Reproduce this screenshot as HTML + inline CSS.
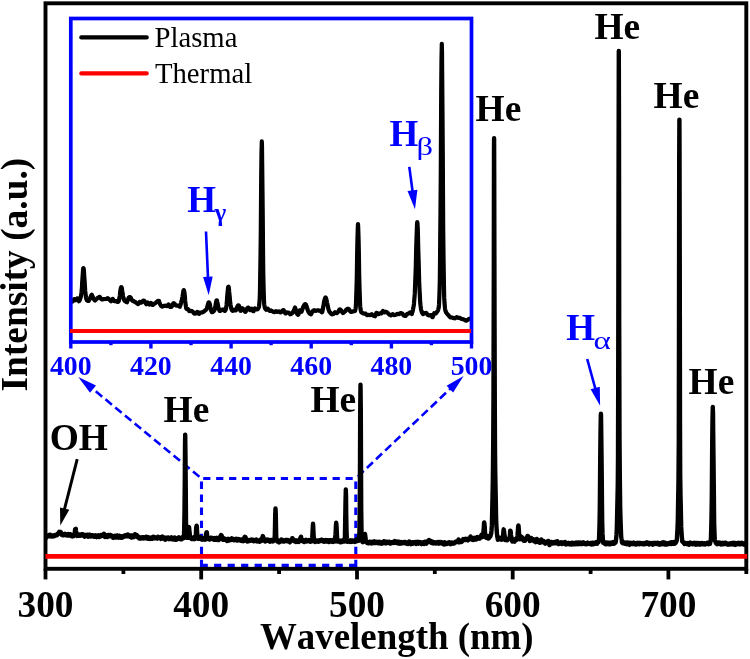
<!DOCTYPE html>
<html><head><meta charset="utf-8"><title>Emission spectrum</title>
<style>
html,body{margin:0;padding:0;background:#fff;}
svg{display:block;}
text{font-family:"Liberation Serif","Times New Roman",serif;font-kerning:none;}
.b{font-weight:bold;}
</style></head><body>
<svg width="750" height="659" viewBox="0 0 750 659">
<rect width="750" height="659" fill="#fff"/>
<defs><clipPath id="cm"><rect x="45.5" y="3.3" width="700.8" height="565.5"/></clipPath><clipPath id="ci"><rect x="70.8" y="18.5" width="400.7" height="322.5"/></clipPath></defs>
<!-- dashed zoom box -->
<g stroke="#0000ff" stroke-width="3.1" fill="none">
<line x1="201.5" y1="478.5" x2="355.8" y2="478.5" stroke-dasharray="7.2 5.74" stroke-dashoffset="-1.7"/>
<line x1="201.5" y1="478.5" x2="201.5" y2="567" stroke-dasharray="7.4 5.66" stroke-dashoffset="-3"/>
<line x1="355.8" y1="478.5" x2="355.8" y2="567" stroke-dasharray="7.4 5.66" stroke-dashoffset="-3"/>
<line x1="200.6" y1="565.4" x2="357" y2="565.4" stroke-dasharray="7.2 6.3"/>
</g>
<line x1="201.5" y1="478.5" x2="92.2" y2="388.4" stroke="#0000ff" stroke-width="2.6" stroke-dasharray="8.3 4.3" stroke-dashoffset="9.9"/><polygon points="78.3,377.0 96.0,385.5 90.0,392.7" fill="#0000ff"/>
<line x1="355.8" y1="478.5" x2="450.6" y2="388.4" stroke="#0000ff" stroke-width="2.6" stroke-dasharray="8.3 4.3" stroke-dashoffset="9.9"/><polygon points="463.6,376.0 453.1,392.5 446.6,385.7" fill="#0000ff"/>
<!-- main spectrum -->
<path clip-path="url(#cm)" d="M45.5 535.5L45.8 536.8L46.0 536.5L46.2 537.1L46.5 537.5L46.8 536.7L47.0 536.6L47.2 535.7L47.5 535.8L47.8 536.0L48.0 536.0L48.2 536.0L48.5 535.5L48.8 535.1L49.0 535.6L49.2 536.2L49.5 534.8L49.8 535.0L50.0 535.9L50.2 534.7L50.5 535.8L50.8 536.3L51.0 535.3L51.2 535.8L51.5 536.4L51.8 535.3L52.0 536.0L52.2 536.6L52.5 536.6L52.8 536.1L53.0 535.4L53.2 535.7L53.5 535.6L53.8 536.0L54.0 535.8L54.2 536.3L54.5 535.9L54.8 535.2L55.0 535.6L55.2 535.1L55.5 535.3L55.8 535.0L56.0 535.4L56.2 534.9L56.5 535.0L56.8 535.2L57.0 534.6L57.2 535.1L57.5 533.8L57.8 534.5L58.0 533.9L58.2 533.6L58.5 533.5L58.8 532.9L59.0 532.6L59.2 531.8L59.5 531.9L59.7 532.6L59.8 532.3L60.0 532.3L60.2 532.6L60.5 532.6L60.8 532.1L61.0 532.9L61.2 533.7L61.5 533.6L61.8 534.9L62.0 534.9L62.2 534.9L62.5 534.5L62.8 535.3L63.0 534.5L63.2 534.7L63.5 534.8L63.8 535.1L64.0 534.6L64.2 533.9L64.5 534.1L64.8 534.1L65.0 534.1L65.2 533.8L65.5 534.1L65.8 534.1L66.0 534.8L66.2 535.2L66.5 535.1L66.8 534.9L67.0 535.4L67.2 535.5L67.5 534.9L67.8 534.9L68.0 535.0L68.2 533.9L68.5 535.4L68.8 534.6L69.0 535.0L69.2 535.6L69.5 535.4L69.8 534.5L70.0 535.1L70.2 534.2L70.5 534.7L70.8 535.4L71.0 535.1L71.2 535.6L71.5 536.1L71.8 536.3L72.0 536.4L72.2 535.1L72.5 535.5L72.8 535.3L73.0 534.7L73.2 535.5L73.5 535.7L73.8 536.0L74.0 535.9L74.2 534.3L74.5 533.5L74.8 532.8L75.0 530.4L75.2 529.1L75.5 529.0L75.8 528.8L76.0 531.0L76.2 532.6L76.5 532.7L76.8 534.5L77.0 535.5L77.2 535.9L77.5 534.8L77.8 534.6L78.0 535.7L78.2 535.8L78.5 534.7L78.8 535.1L79.0 535.5L79.2 535.6L79.5 534.6L79.8 535.3L80.0 535.7L80.2 535.7L80.5 535.4L80.8 534.9L81.0 535.0L81.2 535.6L81.5 534.3L81.8 534.2L82.0 534.7L82.2 534.3L82.5 534.5L82.8 534.3L83.0 535.1L83.2 535.4L83.5 535.3L83.8 535.3L84.0 536.1L84.2 536.3L84.5 536.7L84.8 536.6L85.0 535.4L85.2 535.0L85.5 536.1L85.8 535.9L86.0 534.9L86.2 535.5L86.5 535.9L86.8 535.8L87.0 536.1L87.2 534.7L87.5 534.9L87.8 535.2L88.0 535.3L88.2 536.7L88.5 535.1L88.8 535.8L89.0 534.6L89.2 535.0L89.5 534.9L89.8 534.7L90.0 535.4L90.2 535.7L90.5 535.6L90.8 536.5L91.0 535.9L91.2 535.8L91.5 535.9L91.8 535.8L92.0 535.3L92.2 536.2L92.5 536.0L92.8 535.2L93.0 536.0L93.2 535.9L93.5 536.2L93.8 535.9L94.0 536.2L94.2 536.8L94.5 535.9L94.8 536.4L95.0 536.4L95.2 536.6L95.5 535.3L95.8 536.1L96.0 536.5L96.2 536.5L96.5 536.5L96.8 537.1L97.0 536.9L97.2 536.5L97.5 535.6L97.8 536.8L98.0 536.7L98.2 535.9L98.5 536.1L98.8 535.3L99.0 537.1L99.2 537.0L99.5 536.8L99.8 536.8L100.0 535.7L100.2 535.7L100.5 535.4L100.8 535.8L101.0 535.1L101.2 536.3L101.5 535.7L101.8 535.7L102.0 535.1L102.2 535.9L102.5 535.9L102.8 535.4L103.0 534.5L103.2 535.0L103.5 533.9L103.6 534.9L103.8 534.4L104.0 533.8L104.2 534.1L104.5 535.0L104.8 535.3L105.0 537.0L105.2 536.1L105.5 536.5L105.8 536.2L106.0 535.2L106.2 536.1L106.5 535.8L106.8 536.6L107.0 536.5L107.2 536.4L107.5 537.0L107.8 535.7L108.0 536.3L108.2 535.7L108.5 535.0L108.8 535.9L109.0 535.4L109.2 535.8L109.5 535.5L109.8 535.2L110.0 536.2L110.2 534.9L110.5 534.9L110.8 536.0L111.0 535.4L111.2 535.4L111.5 536.3L111.8 535.6L112.0 536.7L112.2 536.5L112.5 536.3L112.8 536.1L113.0 536.6L113.2 537.9L113.5 537.2L113.8 536.7L114.0 536.8L114.2 537.4L114.5 535.9L114.8 536.5L115.0 535.7L115.2 537.3L115.5 536.9L115.8 536.2L116.0 537.6L116.2 536.7L116.5 536.9L116.8 536.2L117.0 535.4L117.2 535.7L117.5 536.1L117.8 536.3L118.0 536.4L118.2 536.5L118.5 537.7L118.8 536.1L119.0 536.4L119.2 535.7L119.5 535.8L119.8 536.6L120.0 537.2L120.2 536.8L120.5 536.3L120.8 537.8L121.0 536.3L121.2 536.9L121.5 537.2L121.8 537.8L122.0 537.6L122.2 537.0L122.5 536.5L122.8 537.2L123.0 537.3L123.2 537.3L123.5 537.0L123.8 536.0L124.0 536.2L124.2 536.4L124.5 536.3L124.8 536.5L125.0 535.3L125.2 535.6L125.5 535.4L125.8 536.3L126.0 535.7L126.2 536.2L126.5 535.7L126.8 535.7L127.0 536.3L127.2 534.8L127.5 535.5L127.8 535.1L128.0 534.6L128.2 535.9L128.5 534.8L128.8 536.1L129.0 535.1L129.2 536.5L129.5 536.1L129.8 536.1L130.0 536.8L130.2 535.9L130.5 536.1L130.8 536.2L131.0 535.4L131.2 537.0L131.5 537.6L131.8 536.5L132.0 536.8L132.2 536.1L132.5 536.6L132.8 535.5L133.0 536.1L133.2 536.9L133.5 537.1L133.8 536.3L134.0 537.1L134.2 535.9L134.5 536.3L134.8 535.2L135.0 534.2L135.2 534.9L135.5 535.2L135.8 535.3L136.0 535.8L136.2 534.8L136.5 534.9L136.8 534.9L137.0 535.7L137.2 535.8L137.5 536.5L137.8 537.4L138.0 537.4L138.2 536.6L138.5 537.0L138.8 536.8L139.0 537.4L139.2 538.5L139.5 537.2L139.8 537.8L140.0 537.6L140.2 537.2L140.5 537.7L140.8 538.6L141.0 537.7L141.2 538.3L141.5 538.4L141.8 537.5L142.0 538.4L142.2 537.7L142.5 537.5L142.8 537.9L143.0 537.4L143.2 537.8L143.5 537.2L143.8 538.4L144.0 538.0L144.2 537.6L144.5 537.8L144.8 538.3L145.0 538.1L145.2 537.6L145.5 537.5L145.8 537.4L146.0 538.2L146.2 536.7L146.5 537.9L146.8 537.9L147.0 537.0L147.2 537.5L147.5 538.2L147.8 538.8L148.0 538.9L148.2 538.9L148.5 537.7L148.8 537.4L149.0 537.8L149.2 538.0L149.5 538.5L149.8 538.0L150.0 538.7L150.2 538.9L150.5 538.6L150.8 538.7L151.0 538.7L151.2 538.8L151.5 537.4L151.8 538.7L152.0 537.7L152.2 537.8L152.5 538.1L152.8 538.6L153.0 537.6L153.2 536.8L153.5 537.0L153.8 538.0L154.0 538.1L154.2 537.0L154.5 537.1L154.8 537.3L155.0 537.4L155.2 538.3L155.5 537.9L155.8 538.2L156.0 538.4L156.2 538.4L156.5 537.7L156.8 538.3L157.0 538.5L157.2 538.6L157.5 538.0L157.8 537.5L158.0 537.4L158.2 536.9L158.5 538.0L158.8 537.7L159.0 537.4L159.2 538.1L159.5 538.0L159.8 538.0L160.0 537.5L160.2 537.4L160.5 538.4L160.8 538.5L161.0 538.9L161.2 537.5L161.5 537.8L161.8 537.3L162.0 536.7L162.2 537.1L162.5 536.6L162.8 537.3L163.0 538.5L163.2 538.4L163.5 538.3L163.8 537.3L164.0 537.5L164.2 537.4L164.5 537.7L164.8 538.0L165.0 539.6L165.2 539.7L165.5 538.2L165.8 537.8L166.0 538.8L166.2 538.3L166.5 538.1L166.8 538.2L167.0 537.8L167.2 538.1L167.5 538.4L167.8 538.1L168.0 538.5L168.2 537.5L168.5 538.4L168.8 539.1L169.0 537.9L169.2 538.5L169.5 538.7L169.8 538.1L170.0 538.9L170.2 538.1L170.5 538.3L170.8 539.1L171.0 537.6L171.2 538.7L171.5 537.3L171.8 537.8L172.0 538.0L172.2 538.1L172.5 537.9L172.8 538.7L173.0 538.9L173.2 539.5L173.5 539.0L173.8 538.4L174.0 539.1L174.2 539.1L174.5 538.1L174.8 537.5L175.0 537.9L175.2 538.0L175.5 538.0L175.8 539.8L176.0 539.5L176.2 538.6L176.5 538.6L176.8 538.9L177.0 539.5L177.2 538.7L177.5 538.7L177.8 537.9L178.0 537.8L178.2 538.1L178.5 537.6L178.8 537.3L179.0 537.9L179.2 538.5L179.5 537.9L179.8 539.0L180.0 538.9L180.2 538.8L180.5 539.2L180.8 538.0L181.0 538.2L181.2 539.4L181.5 539.4L181.8 538.1L182.0 539.1L182.2 537.5L182.5 537.2L182.8 536.8L183.0 537.3L183.2 537.5L183.5 538.3L183.8 537.0L184.0 534.8L184.2 528.8L184.5 511.6L184.8 480.6L185.0 446.7L185.2 434.6L185.2 434.9L185.5 458.3L185.8 493.8L186.0 520.8L186.2 532.5L186.5 536.1L186.8 537.8L187.0 537.6L187.2 537.6L187.5 537.2L187.8 537.8L188.0 536.2L188.2 535.3L188.5 531.3L188.8 527.6L189.0 527.0L189.2 528.6L189.5 532.2L189.8 534.2L190.0 537.1L190.2 537.9L190.5 537.3L190.8 537.8L191.0 538.3L191.2 537.8L191.5 538.9L191.8 538.7L192.0 539.0L192.2 538.4L192.5 538.6L192.8 538.2L193.0 538.4L193.2 539.1L193.5 539.0L193.8 537.3L194.0 537.1L194.2 537.5L194.5 538.5L194.8 539.1L195.0 538.1L195.2 538.2L195.5 537.3L195.8 535.9L196.0 531.5L196.2 527.7L196.5 526.1L196.6 525.7L196.8 526.3L197.0 530.1L197.2 533.8L197.5 535.8L197.8 537.9L198.0 538.7L198.2 538.8L198.5 536.9L198.8 537.8L199.0 536.8L199.2 538.1L199.5 538.3L199.8 538.7L200.0 538.1L200.2 537.1L200.5 538.0L200.8 537.3L201.0 538.4L201.2 537.7L201.5 538.7L201.8 539.4L202.0 538.4L202.2 539.0L202.5 539.1L202.8 539.2L203.0 539.4L203.2 538.7L203.5 538.3L203.8 538.4L204.0 538.6L204.2 538.0L204.5 539.2L204.8 538.5L205.0 538.7L205.2 539.8L205.5 538.6L205.8 536.2L206.0 534.4L206.2 533.5L206.5 532.4L206.8 532.3L207.0 534.0L207.2 536.3L207.5 536.5L207.8 539.1L208.0 538.8L208.2 538.2L208.5 539.0L208.8 537.9L209.0 538.6L209.2 539.0L209.5 538.5L209.8 539.6L210.0 539.3L210.2 538.3L210.5 538.1L210.8 537.8L211.0 538.5L211.2 537.8L211.5 538.3L211.8 538.7L212.0 538.8L212.2 537.8L212.5 538.4L212.8 538.8L213.0 538.9L213.2 539.0L213.5 539.1L213.8 539.6L214.0 538.9L214.2 538.9L214.5 538.7L214.8 538.1L215.0 538.8L215.2 538.7L215.5 539.8L215.8 539.7L216.0 538.7L216.2 538.6L216.5 539.3L216.8 538.8L217.0 537.8L217.2 539.1L217.5 539.0L217.8 539.9L218.0 539.7L218.2 539.9L218.5 539.5L218.8 539.9L219.0 539.0L219.2 538.9L219.5 538.1L219.8 538.9L220.0 537.1L220.2 536.9L220.5 535.9L220.8 536.0L221.0 535.3L221.1 535.0L221.2 535.6L221.5 535.3L221.8 536.1L222.0 537.3L222.2 537.1L222.5 539.0L222.8 538.7L223.0 538.7L223.2 539.9L223.5 538.6L223.8 538.6L224.0 539.3L224.2 538.4L224.5 539.4L224.8 538.5L225.0 539.3L225.2 539.6L225.5 539.0L225.8 539.2L226.0 539.5L226.2 539.8L226.5 539.3L226.8 540.0L227.0 541.0L227.2 539.8L227.5 540.5L227.8 539.1L228.0 539.1L228.2 538.9L228.5 539.5L228.8 540.2L229.0 540.6L229.2 540.3L229.5 540.4L229.8 540.4L230.0 539.3L230.2 539.9L230.5 539.5L230.8 539.3L231.0 539.3L231.2 539.9L231.5 539.4L231.8 538.3L232.0 539.3L232.2 538.7L232.5 539.4L232.8 539.7L233.0 539.9L233.2 539.2L233.5 539.0L233.8 539.9L234.0 540.3L234.2 540.3L234.5 539.6L234.8 539.7L235.0 539.6L235.2 539.7L235.5 539.2L235.8 540.0L236.0 539.1L236.2 538.8L236.5 538.8L236.8 539.7L237.0 540.4L237.2 540.2L237.5 540.5L237.8 539.4L238.0 539.7L238.2 539.5L238.5 539.4L238.8 539.0L239.0 539.9L239.2 540.3L239.5 540.4L239.8 540.4L240.0 539.8L240.2 540.4L240.5 540.0L240.8 540.6L241.0 539.8L241.2 540.3L241.5 539.5L241.8 539.5L242.0 541.0L242.2 540.1L242.5 539.5L242.8 540.3L243.0 540.8L243.2 540.6L243.5 541.1L243.8 540.7L244.0 539.4L244.2 538.2L244.5 537.2L244.8 536.8L245.0 537.2L245.2 537.8L245.5 537.0L245.8 538.9L246.0 539.4L246.2 539.5L246.5 539.0L246.8 539.6L247.0 541.4L247.2 541.5L247.5 541.0L247.8 540.9L248.0 540.2L248.2 541.4L248.5 540.9L248.8 541.1L249.0 540.8L249.2 540.2L249.5 541.0L249.8 540.1L250.0 540.8L250.2 539.9L250.5 539.9L250.8 540.6L251.0 539.9L251.2 540.6L251.5 540.3L251.8 539.9L252.0 540.0L252.2 539.6L252.5 540.4L252.8 540.8L253.0 540.0L253.2 540.5L253.5 541.2L253.8 540.1L254.0 540.7L254.2 540.5L254.5 540.3L254.8 540.7L255.0 539.9L255.2 540.6L255.5 541.0L255.8 540.0L256.0 539.6L256.2 539.5L256.5 540.0L256.8 540.4L257.0 541.4L257.2 540.8L257.5 540.8L257.8 540.5L258.0 540.6L258.2 541.1L258.5 541.5L258.8 540.5L259.0 540.9L259.2 541.3L259.5 541.7L259.8 540.6L260.0 540.4L260.2 540.3L260.5 539.5L260.8 540.5L261.0 541.2L261.2 539.9L261.5 539.9L261.8 538.6L262.0 538.5L262.2 538.4L262.5 537.1L262.8 536.0L262.8 536.1L263.0 536.6L263.2 537.5L263.5 537.5L263.8 538.3L264.0 539.5L264.2 539.0L264.5 540.8L264.8 540.4L265.0 540.5L265.2 541.5L265.5 540.6L265.8 540.2L266.0 540.2L266.2 540.9L266.5 539.9L266.8 540.4L267.0 539.9L267.2 540.2L267.5 539.5L267.8 540.5L268.0 540.7L268.2 539.7L268.5 539.7L268.8 540.0L269.0 540.6L269.2 540.0L269.5 541.5L269.8 541.7L270.0 541.7L270.2 541.0L270.5 541.3L270.8 540.6L271.0 539.9L271.2 540.2L271.5 540.9L271.8 540.9L272.0 541.3L272.2 541.2L272.5 540.4L272.8 540.8L273.0 541.5L273.2 540.7L273.5 540.0L273.8 540.9L274.0 539.9L274.2 539.3L274.5 538.8L274.8 535.3L275.0 526.8L275.2 515.0L275.5 508.5L275.8 514.2L276.0 526.5L276.2 536.1L276.5 539.9L276.8 540.8L277.0 540.6L277.2 541.4L277.5 540.4L277.8 540.0L278.0 541.0L278.2 541.1L278.5 540.3L278.8 540.5L279.0 541.5L279.2 542.4L279.5 541.2L279.8 541.4L280.0 540.8L280.2 541.6L280.5 541.2L280.8 541.0L281.0 541.0L281.2 540.3L281.5 539.6L281.8 540.1L282.0 541.2L282.2 541.1L282.5 540.9L282.8 541.3L283.0 540.5L283.2 540.8L283.5 541.4L283.8 540.3L284.0 541.6L284.2 541.5L284.5 541.3L284.8 540.9L285.0 540.3L285.2 540.2L285.5 540.6L285.8 540.0L286.0 540.7L286.2 539.9L286.5 541.0L286.8 541.2L287.0 541.1L287.2 540.2L287.5 540.2L287.8 539.9L288.0 540.0L288.2 541.2L288.5 540.9L288.8 541.2L289.0 540.4L289.2 540.7L289.5 541.9L289.8 542.3L290.0 540.9L290.2 542.0L290.5 541.6L290.8 540.4L291.0 541.0L291.2 540.1L291.5 540.0L291.8 540.5L292.0 539.6L292.2 538.2L292.4 539.2L292.5 538.2L292.8 539.9L293.0 539.7L293.2 540.0L293.5 539.4L293.8 539.9L294.0 540.9L294.2 540.6L294.5 541.3L294.8 540.5L295.0 541.0L295.2 540.9L295.5 541.5L295.8 541.9L296.0 540.5L296.2 541.2L296.5 540.4L296.8 541.7L297.0 541.1L297.2 540.5L297.5 541.6L297.8 541.8L298.0 540.6L298.2 540.5L298.5 540.8L298.8 541.3L299.0 541.9L299.2 541.3L299.5 539.9L299.8 539.1L300.0 539.6L300.2 539.0L300.5 537.6L300.8 537.5L300.8 538.1L301.0 536.7L301.2 537.8L301.5 539.7L301.8 539.5L302.0 539.9L302.2 540.2L302.5 541.2L302.8 540.2L303.0 540.1L303.2 541.0L303.5 541.2L303.8 541.3L304.0 541.0L304.2 542.0L304.5 541.0L304.8 541.2L305.0 540.7L305.2 540.7L305.5 540.1L305.8 539.9L306.0 541.3L306.2 540.3L306.5 540.7L306.8 541.4L307.0 540.4L307.2 540.5L307.5 540.9L307.8 540.2L308.0 540.2L308.2 541.0L308.5 540.5L308.8 540.0L309.0 540.4L309.2 541.1L309.5 541.4L309.8 541.2L310.0 541.0L310.2 541.8L310.5 540.4L310.8 540.9L311.0 540.0L311.2 541.5L311.5 541.4L311.8 540.8L312.0 540.0L312.2 538.0L312.5 533.3L312.8 526.8L313.0 523.8L313.2 525.9L313.5 532.8L313.8 538.1L314.0 539.6L314.2 541.0L314.5 540.7L314.8 540.7L315.0 542.0L315.2 541.0L315.5 541.0L315.8 541.0L316.0 541.4L316.2 540.3L316.5 541.4L316.8 541.0L317.0 540.8L317.2 540.7L317.5 541.6L317.8 541.4L318.0 540.9L318.2 540.6L318.5 541.8L318.8 540.4L319.0 540.6L319.2 541.4L319.5 541.4L319.8 540.2L320.0 540.4L320.2 540.4L320.5 540.7L320.8 540.5L321.0 540.1L321.2 539.9L321.5 540.3L321.8 539.9L322.0 541.0L322.2 540.5L322.5 540.1L322.8 541.1L323.0 541.4L323.2 540.8L323.5 540.3L323.8 541.4L324.0 541.6L324.2 541.7L324.5 541.2L324.8 540.8L325.0 540.4L325.2 540.2L325.5 540.0L325.8 541.5L326.0 541.4L326.2 541.2L326.5 540.5L326.8 540.4L327.0 541.0L327.2 540.3L327.5 540.2L327.8 540.9L328.0 540.9L328.2 541.7L328.5 541.4L328.8 541.3L329.0 542.1L329.2 541.6L329.5 540.3L329.8 540.3L330.0 540.7L330.2 540.3L330.5 541.4L330.8 541.2L331.0 540.2L331.2 541.3L331.5 541.2L331.8 541.0L332.0 541.7L332.2 541.8L332.5 541.8L332.8 542.0L333.0 541.6L333.2 540.5L333.5 540.5L333.8 539.8L334.0 540.6L334.2 540.5L334.5 540.6L334.8 541.5L335.0 539.2L335.2 537.2L335.5 534.4L335.8 529.2L336.0 524.5L336.2 523.7L336.2 522.8L336.5 525.7L336.8 531.3L337.0 535.6L337.2 539.8L337.5 541.6L337.8 541.6L338.0 541.6L338.2 540.2L338.5 540.8L338.8 541.5L339.0 541.5L339.2 541.2L339.5 541.4L339.8 541.1L340.0 541.4L340.2 541.2L340.5 542.3L340.8 541.1L341.0 542.1L341.2 540.6L341.5 542.0L341.8 541.5L342.0 540.5L342.2 541.3L342.5 541.3L342.8 541.4L343.0 541.4L343.2 541.2L343.5 541.1L343.8 540.4L344.0 541.6L344.2 541.1L344.5 540.5L344.8 539.9L345.0 533.1L345.2 520.6L345.5 502.6L345.8 490.5L345.8 489.4L346.0 495.1L346.2 514.0L346.5 529.8L346.8 538.2L347.0 540.2L347.2 541.8L347.5 541.6L347.8 541.5L348.0 541.2L348.2 541.0L348.5 540.8L348.8 541.4L349.0 540.4L349.2 541.2L349.5 541.6L349.8 541.9L350.0 541.1L350.2 541.0L350.5 541.6L350.8 541.1L351.0 540.3L351.2 541.0L351.5 541.7L351.8 541.9L352.0 541.5L352.2 540.8L352.5 541.0L352.8 540.6L353.0 540.7L353.2 540.5L353.5 541.4L353.8 541.4L354.0 540.9L354.2 541.7L354.5 540.8L354.8 541.2L355.0 541.9L355.2 541.2L355.5 540.1L355.8 541.4L356.0 541.2L356.2 541.5L356.5 540.7L356.8 540.5L357.0 539.1L357.2 539.8L357.5 540.7L357.8 540.9L358.0 540.6L358.2 539.7L358.5 539.9L358.8 540.7L359.0 540.1L359.2 538.0L359.5 529.4L359.8 508.0L360.0 465.0L360.2 412.6L360.5 384.7L360.8 411.5L361.0 464.9L361.2 508.9L361.5 530.6L361.8 538.9L362.0 539.9L362.2 540.5L362.5 542.0L362.8 541.0L363.0 542.2L363.2 542.1L363.5 541.4L363.8 541.1L364.0 541.1L364.2 538.6L364.5 538.1L364.8 534.5L365.0 533.9L365.2 536.0L365.5 537.5L365.8 541.0L366.0 541.3L366.2 541.3L366.5 541.6L366.8 542.3L367.0 542.9L367.2 542.0L367.5 542.3L367.8 542.8L368.0 543.1L368.2 543.3L368.5 542.5L368.8 542.4L369.0 543.0L369.2 542.8L369.5 541.8L369.8 542.8L370.0 541.8L370.2 543.1L370.5 543.3L370.8 542.7L371.0 542.8L371.2 542.0L371.5 543.4L371.8 543.3L372.0 543.0L372.2 542.9L372.5 542.1L372.8 543.0L373.0 542.2L373.2 542.4L373.5 541.9L373.8 543.0L374.0 542.2L374.2 542.8L374.5 541.3L374.8 541.5L375.0 541.7L375.2 542.1L375.5 543.1L375.8 541.9L376.0 543.0L376.2 542.2L376.5 542.8L376.8 542.4L377.0 541.8L377.2 541.9L377.5 541.9L377.8 542.1L378.0 543.1L378.2 542.3L378.5 543.3L378.8 542.0L379.0 543.2L379.2 541.8L379.5 543.1L379.8 541.9L380.0 542.0L380.2 542.3L380.5 543.5L380.8 542.9L381.0 543.0L381.2 543.7L381.5 542.7L381.8 543.5L382.0 543.2L382.2 542.7L382.5 543.5L382.8 542.2L383.0 541.8L383.2 542.4L383.5 542.6L383.8 541.5L384.0 541.2L384.2 542.5L384.5 542.1L384.8 542.8L385.0 543.2L385.2 543.3L385.5 542.1L385.8 542.3L386.0 542.2L386.2 541.7L386.5 542.6L386.8 543.1L387.0 542.6L387.2 542.3L387.5 541.7L387.8 542.8L388.0 542.4L388.2 542.5L388.5 542.8L388.8 542.5L389.0 542.1L389.2 541.8L389.5 542.4L389.8 542.1L390.0 542.6L390.2 542.9L390.5 543.6L390.8 542.8L391.0 542.9L391.2 543.3L391.5 543.0L391.8 542.7L392.0 542.4L392.2 542.5L392.5 541.9L392.8 541.9L393.0 541.9L393.2 542.1L393.5 542.9L393.8 542.6L394.0 541.4L394.2 542.4L394.5 541.5L394.8 541.5L395.0 541.1L395.2 542.9L395.5 542.1L395.8 542.3L396.0 542.7L396.2 542.8L396.5 542.6L396.8 543.0L397.0 541.4L397.2 542.7L397.5 542.5L397.8 543.3L398.0 543.1L398.2 543.5L398.5 543.4L398.8 543.0L399.0 541.7L399.2 542.6L399.5 543.3L399.8 543.5L400.0 543.7L400.2 542.9L400.5 542.2L400.8 543.6L401.0 543.0L401.2 543.5L401.5 542.1L401.8 542.2L402.0 542.9L402.2 542.5L402.5 543.3L402.8 542.5L403.0 543.2L403.2 542.6L403.5 542.4L403.8 542.3L404.0 543.1L404.2 542.1L404.5 542.9L404.8 542.0L405.0 543.0L405.2 542.4L405.5 542.1L405.8 543.5L406.0 542.3L406.2 543.5L406.5 543.1L406.8 543.1L407.0 543.1L407.2 543.7L407.5 542.5L407.8 544.1L408.0 543.3L408.2 542.7L408.5 543.6L408.8 541.8L409.0 542.2L409.2 542.6L409.5 541.5L409.8 542.6L410.0 542.8L410.2 543.2L410.5 542.7L410.8 543.9L411.0 544.2L411.2 542.6L411.5 543.6L411.8 543.5L412.0 542.6L412.2 543.9L412.5 543.7L412.8 542.2L413.0 543.0L413.2 543.6L413.5 543.5L413.8 542.5L414.0 542.9L414.2 543.1L414.5 542.7L414.8 542.7L415.0 542.1L415.2 542.0L415.5 542.6L415.8 543.0L416.0 543.3L416.2 543.9L416.5 542.5L416.8 542.7L417.0 543.2L417.2 542.9L417.5 541.8L417.8 542.8L418.0 542.0L418.2 543.7L418.5 542.9L418.8 543.4L419.0 542.8L419.2 542.4L419.5 542.0L419.8 542.5L420.0 542.5L420.2 542.9L420.5 542.3L420.8 542.5L421.0 542.9L421.2 543.5L421.5 544.1L421.8 543.1L422.0 542.8L422.2 542.7L422.5 542.6L422.8 542.3L423.0 542.2L423.2 542.9L423.5 542.6L423.8 543.4L424.0 543.9L424.2 543.7L424.5 543.5L424.8 542.2L425.0 541.8L425.2 542.2L425.5 542.8L425.8 542.2L426.0 542.2L426.2 543.8L426.5 542.5L426.8 541.6L427.0 541.9L427.2 542.2L427.5 541.8L427.8 541.3L428.0 541.9L428.2 541.2L428.5 542.2L428.8 542.0L429.0 540.0L429.2 540.8L429.5 541.5L429.8 541.5L430.0 540.8L430.2 540.8L430.5 541.5L430.8 541.0L431.0 542.5L431.2 542.2L431.5 542.1L431.8 543.1L432.0 542.3L432.2 542.6L432.5 542.4L432.8 541.8L433.0 543.3L433.2 543.5L433.5 542.5L433.8 542.6L434.0 542.1L434.2 543.1L434.5 542.6L434.8 543.1L435.0 543.1L435.2 543.3L435.5 542.7L435.8 543.5L436.0 542.5L436.2 543.4L436.5 543.4L436.8 543.2L437.0 542.5L437.2 543.0L437.5 542.8L437.8 542.9L438.0 541.9L438.2 542.2L438.5 542.9L438.8 543.6L439.0 542.6L439.2 543.5L439.5 543.5L439.8 542.1L440.0 543.3L440.2 542.9L440.5 542.4L440.8 542.4L441.0 542.4L441.2 542.0L441.5 543.3L441.8 542.9L442.0 542.5L442.2 543.1L442.5 543.3L442.8 543.0L443.0 543.4L443.2 544.1L443.5 543.7L443.8 544.4L444.0 543.2L444.2 542.7L444.5 542.2L444.8 542.7L445.0 542.7L445.2 544.2L445.5 543.6L445.8 543.1L446.0 543.7L446.2 543.5L446.5 543.9L446.8 543.0L447.0 543.0L447.2 543.3L447.5 543.6L447.8 542.7L448.0 542.9L448.2 542.5L448.5 542.4L448.8 542.7L449.0 543.4L449.2 543.5L449.5 543.0L449.8 542.4L450.0 543.2L450.2 543.9L450.5 544.2L450.8 542.7L451.0 543.8L451.2 543.8L451.5 542.4L451.8 543.6L452.0 542.8L452.2 543.1L452.5 543.0L452.8 543.2L453.0 543.6L453.2 543.3L453.5 542.6L453.8 542.6L454.0 543.6L454.2 542.6L454.5 542.7L454.8 542.2L455.0 542.5L455.2 542.7L455.5 541.8L455.8 542.0L456.0 542.2L456.2 541.7L456.5 542.2L456.8 541.6L457.0 541.2L457.2 541.9L457.5 541.8L457.8 541.9L458.0 540.9L458.2 541.6L458.5 539.5L458.8 540.4L459.0 541.3L459.2 542.4L459.5 541.1L459.8 540.6L460.0 541.4L460.2 541.7L460.5 540.7L460.8 541.7L461.0 540.9L461.2 542.1L461.5 540.5L461.8 541.5L462.0 541.6L462.2 540.3L462.5 541.0L462.8 540.3L463.0 539.7L463.2 539.0L463.5 540.0L463.8 539.4L464.0 539.7L464.2 539.2L464.5 539.1L464.8 539.4L465.0 540.1L465.2 538.9L465.5 538.8L465.8 539.4L466.0 539.0L466.2 539.5L466.5 539.3L466.8 539.8L467.0 539.2L467.2 539.0L467.5 540.3L467.8 539.0L468.0 540.1L468.2 540.3L468.5 539.4L468.8 539.4L469.0 538.8L469.2 538.4L469.5 538.3L469.8 537.8L470.0 538.4L470.2 537.8L470.5 536.5L470.8 537.3L471.0 538.6L471.2 539.3L471.5 539.5L471.8 539.5L472.0 539.6L472.2 539.8L472.5 539.1L472.8 539.3L473.0 539.0L473.2 538.0L473.5 538.5L473.8 539.5L474.0 539.9L474.2 538.7L474.5 539.5L474.8 539.1L475.0 538.0L475.2 537.7L475.5 537.7L475.8 538.4L476.0 539.5L476.2 538.5L476.5 539.4L476.8 538.0L477.0 537.7L477.2 537.7L477.5 537.0L477.8 537.1L478.0 538.3L478.2 537.8L478.5 538.4L478.8 537.6L479.0 537.7L479.2 538.7L479.5 538.3L479.8 537.7L480.0 538.5L480.2 538.0L480.5 537.2L480.8 537.3L481.0 535.9L481.2 535.5L481.5 534.8L481.8 534.8L482.0 535.7L482.2 535.4L482.5 536.2L482.8 536.9L483.0 536.6L483.2 534.3L483.5 530.9L483.8 528.0L484.0 523.7L484.2 522.4L484.3 522.9L484.5 524.2L484.8 527.7L485.0 532.5L485.2 534.9L485.5 535.6L485.8 536.7L486.0 536.8L486.2 537.7L486.5 536.9L486.8 537.2L487.0 535.6L487.2 536.0L487.5 536.4L487.8 536.4L488.0 538.1L488.2 538.5L488.5 537.9L488.8 538.4L489.0 537.9L489.2 536.5L489.5 536.2L489.8 537.0L490.0 536.7L490.2 536.5L490.5 536.0L490.8 534.6L491.0 534.5L491.2 532.9L491.5 530.5L491.8 525.9L492.0 520.3L492.2 509.9L492.5 498.0L492.8 482.9L493.0 464.9L493.2 444.4L493.5 395.9L493.8 280.6L494.0 153.9L494.1 138.2L494.2 172.6L494.5 309.9L494.8 409.2L495.0 448.9L495.2 469.1L495.5 486.7L495.8 501.1L496.0 512.4L496.2 521.7L496.5 527.3L496.8 531.6L497.0 534.3L497.2 536.2L497.5 537.5L497.8 539.7L498.0 539.2L498.2 538.6L498.5 538.8L498.8 539.3L499.0 538.7L499.2 538.3L499.5 538.2L499.8 537.7L500.0 538.6L500.2 539.1L500.5 539.4L500.8 539.2L501.0 539.0L501.2 538.4L501.5 539.7L501.8 539.6L502.0 539.1L502.2 539.5L502.5 539.3L502.8 537.3L503.0 535.9L503.2 534.3L503.5 530.5L503.7 529.3L503.8 530.5L504.0 531.0L504.2 532.1L504.5 535.6L504.8 537.6L505.0 539.1L505.2 539.9L505.5 540.1L505.8 539.9L506.0 539.7L506.2 538.8L506.5 539.1L506.8 539.5L507.0 540.3L507.2 539.0L507.5 538.8L507.8 539.9L508.0 538.9L508.2 539.3L508.5 538.7L508.8 539.0L509.0 538.6L509.2 538.5L509.5 538.7L509.8 537.0L510.0 534.8L510.2 530.7L510.5 530.9L510.8 532.2L511.0 535.0L511.2 536.5L511.5 537.8L511.8 539.3L512.0 540.8L512.2 541.4L512.5 540.4L512.8 539.9L513.0 539.8L513.2 539.1L513.5 539.1L513.8 539.5L514.0 540.3L514.2 540.3L514.5 541.7L514.8 540.8L515.0 540.5L515.2 539.6L515.5 539.2L515.8 538.8L516.0 539.0L516.2 540.2L516.5 539.8L516.8 538.8L517.0 539.0L517.2 538.3L517.5 535.8L517.8 532.3L518.0 528.8L518.2 525.9L518.3 526.1L518.5 525.6L518.8 529.2L519.0 532.7L519.2 535.3L519.5 537.4L519.8 539.4L520.0 539.3L520.2 539.0L520.5 537.9L520.8 537.4L521.0 536.5L521.2 536.7L521.5 537.3L521.8 538.3L522.0 537.2L522.2 538.3L522.5 538.5L522.8 538.7L523.0 539.1L523.2 540.2L523.5 540.1L523.8 540.7L524.0 540.7L524.2 540.0L524.5 540.8L524.8 540.8L525.0 540.7L525.2 539.7L525.5 539.0L525.8 538.6L526.0 538.9L526.2 538.3L526.5 537.4L526.8 538.3L527.0 538.8L527.2 536.8L527.3 537.1L527.5 535.9L527.8 536.4L528.0 536.1L528.2 538.3L528.5 538.0L528.8 538.2L529.0 537.5L529.2 537.5L529.5 538.3L529.8 541.1L530.0 540.6L530.2 539.6L530.5 538.9L530.8 538.1L531.0 538.2L531.2 538.1L531.5 539.7L531.8 540.0L532.0 539.5L532.2 540.3L532.5 538.8L532.8 539.5L533.0 540.2L533.2 539.2L533.5 539.3L533.8 540.6L534.0 540.6L534.2 541.2L534.5 539.8L534.8 539.7L535.0 540.1L535.2 541.3L535.5 541.6L535.8 542.1L536.0 540.7L536.2 540.8L536.5 540.3L536.8 538.9L537.0 539.9L537.2 541.3L537.5 541.2L537.8 541.6L538.0 541.1L538.2 541.9L538.5 541.6L538.8 541.9L539.0 540.9L539.2 541.0L539.5 540.7L539.8 541.1L540.0 542.9L540.2 542.5L540.5 542.0L540.8 540.5L541.0 540.9L541.2 539.4L541.5 541.1L541.8 541.7L542.0 541.8L542.2 541.5L542.5 541.1L542.8 541.2L543.0 541.3L543.2 542.1L543.5 540.9L543.8 541.2L544.0 542.2L544.2 542.9L544.5 542.9L544.8 542.1L545.0 543.5L545.2 543.7L545.5 542.8L545.8 542.7L546.0 542.6L546.2 542.9L546.5 542.0L546.8 541.7L547.0 543.1L547.2 542.1L547.5 542.0L547.8 541.6L548.0 541.0L548.2 541.0L548.5 540.9L548.8 541.9L549.0 542.8L549.2 544.1L549.5 545.1L549.8 542.9L550.0 541.9L550.2 542.4L550.5 542.0L550.8 543.4L551.0 542.7L551.2 542.3L551.5 542.0L551.8 542.0L552.0 542.8L552.2 542.5L552.5 543.6L552.8 543.0L553.0 542.8L553.2 543.0L553.5 542.6L553.8 543.1L554.0 542.9L554.2 542.6L554.5 542.0L554.8 542.9L555.0 543.0L555.2 543.3L555.5 543.3L555.8 542.6L556.0 541.6L556.2 541.5L556.5 542.8L556.8 542.7L557.0 541.8L557.2 541.2L557.5 541.7L557.8 542.1L558.0 543.8L558.2 543.1L558.5 543.4L558.8 544.1L559.0 543.1L559.2 543.6L559.5 543.7L559.8 543.4L560.0 542.9L560.2 543.3L560.5 542.7L560.8 542.9L561.0 542.9L561.2 542.3L561.5 543.7L561.8 543.4L562.0 544.1L562.2 544.1L562.5 542.9L562.8 542.5L563.0 543.7L563.2 542.6L563.5 542.7L563.8 543.2L564.0 542.4L564.2 543.0L564.5 542.4L564.8 542.1L565.0 542.0L565.2 542.9L565.5 543.4L565.8 544.4L566.0 543.7L566.2 543.9L566.5 543.2L566.8 543.3L567.0 544.1L567.2 543.4L567.5 544.1L567.8 543.3L568.0 543.1L568.2 543.9L568.5 542.9L568.8 543.8L569.0 543.3L569.2 543.0L569.5 544.2L569.8 544.5L570.0 543.5L570.2 543.9L570.5 543.6L570.8 544.1L571.0 543.2L571.2 543.8L571.5 544.5L571.8 542.7L572.0 543.9L572.2 543.2L572.5 543.4L572.8 543.1L573.0 543.5L573.2 543.7L573.5 544.3L573.8 543.9L574.0 543.8L574.2 544.1L574.5 543.4L574.8 544.2L575.0 544.3L575.2 542.8L575.5 543.9L575.8 543.8L576.0 543.4L576.2 544.0L576.5 543.8L576.8 543.4L577.0 542.4L577.2 544.2L577.5 543.5L577.8 544.1L578.0 542.8L578.2 543.5L578.5 542.6L578.8 543.5L579.0 543.7L579.2 543.4L579.5 544.0L579.8 543.5L580.0 542.7L580.2 542.5L580.5 542.5L580.8 542.9L581.0 543.9L581.2 543.0L581.5 544.0L581.8 543.9L582.0 543.9L582.2 543.8L582.5 542.9L582.8 543.9L583.0 542.9L583.2 543.8L583.5 542.3L583.8 542.5L584.0 542.7L584.2 543.9L584.5 543.0L584.8 543.5L585.0 543.5L585.2 543.4L585.5 543.2L585.8 544.3L586.0 543.7L586.2 543.3L586.5 544.0L586.8 543.1L587.0 543.8L587.2 542.7L587.5 544.0L587.8 542.6L588.0 543.0L588.2 543.0L588.5 543.8L588.8 543.7L589.0 543.7L589.2 543.6L589.5 543.9L589.8 543.3L590.0 543.5L590.2 543.4L590.5 543.1L590.8 543.9L591.0 544.4L591.2 544.4L591.5 544.5L591.8 542.9L592.0 543.8L592.2 542.7L592.5 544.1L592.8 544.2L593.0 543.6L593.2 544.3L593.5 543.3L593.8 543.3L594.0 542.9L594.2 543.7L594.5 543.3L594.8 543.2L595.0 543.1L595.2 543.7L595.5 542.5L595.8 543.5L596.0 542.4L596.2 542.5L596.5 542.1L596.8 543.0L597.0 543.8L597.2 542.5L597.5 542.2L597.8 542.8L598.0 541.9L598.2 542.3L598.5 542.2L598.8 540.7L599.0 539.9L599.2 534.2L599.5 525.2L599.8 508.6L600.0 487.6L600.2 459.5L600.5 434.3L600.8 416.6L600.9 413.6L601.0 414.9L601.2 429.6L601.5 453.8L601.8 481.8L602.0 505.5L602.2 521.9L602.5 533.4L602.8 537.8L603.0 541.3L603.2 542.8L603.5 543.0L603.8 542.0L604.0 542.2L604.2 542.2L604.5 542.4L604.8 543.1L605.0 544.0L605.2 543.2L605.5 544.1L605.8 543.1L606.0 544.3L606.2 543.2L606.5 542.7L606.8 542.6L607.0 542.4L607.2 542.5L607.5 544.1L607.8 543.8L608.0 542.9L608.2 543.8L608.5 543.5L608.8 542.7L609.0 544.2L609.2 542.9L609.5 543.5L609.8 543.2L610.0 543.4L610.2 544.3L610.5 543.8L610.8 542.7L611.0 543.4L611.2 543.0L611.5 542.8L611.8 543.6L612.0 543.0L612.2 543.8L612.5 542.8L612.8 542.3L613.0 543.5L613.2 542.2L613.5 543.3L613.8 543.7L614.0 543.5L614.2 543.7L614.5 542.3L614.8 542.4L615.0 542.8L615.2 541.7L615.5 542.7L615.8 541.3L616.0 539.9L616.2 538.0L616.5 534.7L616.8 529.2L617.0 521.4L617.2 511.4L617.5 498.2L617.8 483.9L618.0 457.9L618.2 384.1L618.5 208.4L618.8 55.6L618.8 51.0L619.0 130.7L619.2 324.4L619.5 438.4L619.8 475.5L620.0 492.5L620.2 507.7L620.5 518.9L620.8 527.3L621.0 532.6L621.2 536.9L621.5 538.6L621.8 540.1L622.0 542.6L622.2 542.4L622.5 542.2L622.8 543.2L623.0 542.6L623.2 543.1L623.5 542.3L623.8 543.0L624.0 543.0L624.2 542.8L624.5 542.6L624.8 543.8L625.0 543.6L625.2 543.3L625.5 542.8L625.8 543.4L626.0 543.2L626.2 542.7L626.5 544.0L626.8 543.8L627.0 544.2L627.2 543.8L627.5 542.5L627.8 542.9L628.0 542.5L628.2 542.7L628.5 543.5L628.8 543.2L629.0 543.2L629.2 544.4L629.5 544.8L629.8 544.5L630.0 543.0L630.2 543.3L630.5 542.7L630.8 543.3L631.0 544.2L631.2 542.9L631.5 543.8L631.8 543.4L632.0 543.5L632.2 544.1L632.5 543.2L632.8 543.3L633.0 544.0L633.2 542.8L633.5 542.6L633.8 543.2L634.0 543.3L634.2 543.2L634.5 543.2L634.8 544.3L635.0 543.5L635.2 543.3L635.5 544.1L635.8 544.2L636.0 544.0L636.2 544.6L636.5 543.0L636.8 543.4L637.0 543.9L637.2 544.2L637.5 542.9L637.8 543.9L638.0 542.9L638.2 543.3L638.5 543.9L638.8 544.1L639.0 542.9L639.2 543.3L639.5 544.3L639.8 543.5L640.0 543.6L640.2 543.1L640.5 543.6L640.8 543.3L641.0 543.1L641.2 543.4L641.5 543.9L641.8 543.8L642.0 543.8L642.2 543.4L642.5 543.5L642.8 544.2L643.0 544.3L643.2 544.3L643.5 543.1L643.8 543.9L644.0 544.2L644.2 543.4L644.5 543.6L644.8 544.2L645.0 543.9L645.2 544.0L645.5 542.8L645.8 542.7L646.0 543.7L646.2 543.4L646.5 542.7L646.8 542.4L647.0 542.9L647.2 543.7L647.5 543.3L647.8 543.8L648.0 543.0L648.2 543.8L648.5 543.0L648.8 544.4L649.0 543.4L649.2 543.0L649.5 544.4L649.8 543.5L650.0 543.6L650.2 543.1L650.5 543.2L650.8 543.5L651.0 543.4L651.2 543.7L651.5 543.3L651.8 543.6L652.0 543.0L652.2 543.9L652.5 544.1L652.8 544.6L653.0 544.2L653.2 543.0L653.5 543.5L653.8 544.2L654.0 544.1L654.2 542.9L654.5 542.8L654.8 543.7L655.0 543.7L655.2 543.1L655.5 543.2L655.8 543.2L656.0 543.9L656.2 543.1L656.5 544.1L656.8 544.1L657.0 543.0L657.2 544.1L657.5 542.7L657.8 543.3L658.0 542.8L658.2 543.3L658.5 543.5L658.8 544.4L659.0 544.5L659.2 543.6L659.5 543.6L659.8 544.7L660.0 543.3L660.2 543.8L660.5 544.0L660.8 544.0L661.0 543.0L661.2 543.2L661.5 542.9L661.8 544.0L662.0 543.9L662.2 544.1L662.5 543.3L662.8 542.5L663.0 544.0L663.2 542.5L663.5 542.7L663.8 542.4L664.0 543.3L664.2 544.0L664.5 544.4L664.8 543.6L665.0 542.7L665.2 544.2L665.5 542.8L665.8 543.0L666.0 543.2L666.2 544.5L666.5 543.7L666.8 544.4L667.0 543.8L667.2 543.7L667.5 544.2L667.8 543.1L668.0 543.1L668.2 544.2L668.5 543.5L668.8 543.2L669.0 543.7L669.2 544.0L669.5 543.9L669.8 543.4L670.0 543.5L670.2 542.8L670.5 543.3L670.8 543.9L671.0 544.0L671.2 542.3L671.5 542.8L671.8 542.8L672.0 543.0L672.2 543.1L672.5 543.2L672.8 543.6L673.0 542.9L673.2 543.5L673.5 542.1L673.8 543.8L674.0 542.5L674.2 543.7L674.5 543.3L674.8 543.6L675.0 542.8L675.2 542.7L675.5 543.2L675.8 542.2L676.0 542.3L676.2 542.0L676.5 540.5L676.8 540.3L677.0 537.4L677.2 533.7L677.5 528.3L677.8 520.7L678.0 509.1L678.2 496.9L678.5 480.4L678.8 441.4L679.0 324.8L679.2 161.1L679.4 119.6L679.5 139.5L679.8 290.6L680.0 425.4L680.2 475.6L680.5 495.6L680.8 507.5L681.0 518.6L681.2 526.9L681.5 532.2L681.8 536.6L682.0 538.4L682.2 541.4L682.5 541.8L682.8 541.9L683.0 542.3L683.2 542.4L683.5 542.1L683.8 542.6L684.0 543.3L684.2 543.1L684.5 544.0L684.8 543.6L685.0 543.9L685.2 542.8L685.5 543.5L685.8 543.1L686.0 543.1L686.2 543.2L686.5 543.6L686.8 543.3L687.0 543.2L687.2 543.1L687.5 544.2L687.8 543.3L688.0 544.2L688.2 544.4L688.5 543.9L688.8 544.6L689.0 544.7L689.2 544.4L689.5 544.2L689.8 543.2L690.0 542.9L690.2 542.5L690.5 542.8L690.8 543.4L691.0 543.3L691.2 544.1L691.5 543.4L691.8 544.0L692.0 543.5L692.2 543.2L692.5 544.3L692.8 543.5L693.0 544.0L693.2 543.4L693.5 544.0L693.8 543.0L694.0 542.8L694.2 543.8L694.5 543.5L694.8 543.8L695.0 542.9L695.2 544.2L695.5 543.0L695.8 544.7L696.0 544.5L696.2 544.1L696.5 543.1L696.8 543.9L697.0 544.6L697.2 544.2L697.5 544.1L697.8 543.0L698.0 543.1L698.2 544.1L698.5 543.7L698.8 543.7L699.0 543.1L699.2 543.2L699.5 544.3L699.8 543.5L700.0 544.7L700.2 543.2L700.5 543.7L700.8 543.8L701.0 544.0L701.2 544.2L701.5 544.2L701.8 544.3L702.0 542.9L702.2 543.0L702.5 543.2L702.8 543.4L703.0 544.2L703.2 543.7L703.5 543.9L703.8 543.8L704.0 543.8L704.2 543.2L704.5 544.3L704.8 544.2L705.0 544.1L705.2 544.5L705.5 543.5L705.8 543.5L706.0 543.5L706.2 543.2L706.5 543.4L706.8 543.6L707.0 543.4L707.2 542.8L707.5 543.8L707.8 542.8L708.0 543.1L708.2 543.5L708.5 544.2L708.8 543.0L709.0 543.9L709.2 543.4L709.5 543.6L709.8 542.9L710.0 543.8L710.2 542.8L710.5 540.9L710.8 540.6L711.0 536.4L711.2 529.8L711.5 516.7L711.8 497.4L712.0 471.5L712.2 443.0L712.5 419.7L712.8 406.9L712.8 407.9L713.0 413.2L713.2 433.1L713.5 459.8L713.8 486.9L714.0 509.6L714.2 524.8L714.5 533.9L714.8 539.7L715.0 541.1L715.2 541.4L715.5 541.8L715.8 542.8L716.0 543.2L716.2 543.5L716.5 542.6L716.8 543.5L717.0 544.2L717.2 543.9L717.5 543.9L717.8 543.5L718.0 544.0L718.2 542.5L718.5 543.9L718.8 543.9L719.0 543.4L719.2 543.5L719.5 542.9L719.8 542.6L720.0 543.1L720.2 543.1L720.5 543.5L720.8 543.4L721.0 544.5L721.2 543.1L721.5 544.3L721.8 543.8L722.0 543.0L722.2 544.1L722.5 543.5L722.8 542.7L723.0 544.2L723.2 543.1L723.5 543.7L723.8 543.8L724.0 543.9L724.2 543.9L724.5 544.0L724.8 543.9L725.0 542.8L725.2 543.5L725.5 543.4L725.8 542.8L726.0 543.4L726.2 544.0L726.5 543.5L726.8 543.5L727.0 543.8L727.2 544.0L727.5 544.5L727.8 544.7L728.0 543.8L728.2 543.6L728.5 543.7L728.8 544.6L729.0 544.5L729.2 543.4L729.5 544.2L729.8 543.7L730.0 544.4L730.2 543.7L730.5 544.3L730.8 543.7L731.0 543.4L731.2 544.3L731.5 543.5L731.8 544.2L732.0 543.6L732.2 543.1L732.5 543.3L732.8 544.0L733.0 543.0L733.2 542.9L733.5 544.6L733.8 543.3L734.0 543.4L734.2 543.8L734.5 544.3L734.8 544.5L735.0 543.0L735.2 543.3L735.5 544.9L735.8 544.2L736.0 544.6L736.2 543.5L736.5 543.3L736.8 544.3L737.0 543.1L737.2 543.3L737.5 543.6L737.8 543.7L738.0 543.2L738.2 543.2L738.5 542.8L738.8 543.7L739.0 544.2L739.2 544.1L739.5 543.2L739.8 544.1L740.0 544.2L740.2 543.0L740.5 543.4L740.8 544.2L741.0 544.1L741.2 543.6L741.5 543.2L741.8 543.0L742.0 542.8L742.2 543.3L742.5 543.9L742.8 544.0L743.0 543.3L743.2 543.7L743.5 543.7L743.8 544.4L744.0 544.7L744.2 544.8L744.5 543.9L744.8 544.6L745.0 544.2L745.2 543.2L745.5 543.1L745.8 544.0L746.0 544.0L746.2 543.8" fill="none" stroke="#000" stroke-width="4.4" stroke-linejoin="round" stroke-linecap="round"/>
<!-- main frame -->
<rect x="45.5" y="3.3" width="700.8" height="565.5" fill="none" stroke="#000" stroke-width="3.9"/>
<line x1="45.5" y1="556.4" x2="747.2" y2="556.4" stroke="#ff0000" stroke-width="4.6"/>
<g stroke="#000" stroke-width="3.8"><line x1="45.5" y1="568.8" x2="45.5" y2="579.4"/><line x1="123.4" y1="568.8" x2="123.4" y2="574.0"/><line x1="201.2" y1="568.8" x2="201.2" y2="579.4"/><line x1="279.1" y1="568.8" x2="279.1" y2="574.0"/><line x1="357.0" y1="568.8" x2="357.0" y2="579.4"/><line x1="434.8" y1="568.8" x2="434.8" y2="574.0"/><line x1="512.7" y1="568.8" x2="512.7" y2="579.4"/><line x1="590.6" y1="568.8" x2="590.6" y2="574.0"/><line x1="668.4" y1="568.8" x2="668.4" y2="579.4"/><line x1="746.3" y1="568.8" x2="746.3" y2="574.0"/></g>
<g class="b" font-size="37.3" text-anchor="middle" fill="#000"><text x="45.5" y="617.3">300</text><text x="201.2" y="617.3">400</text><text x="357.0" y="617.3">500</text><text x="512.7" y="617.3">600</text><text x="668.4" y="617.3">700</text></g>
<text class="b" x="396.7" y="648.7" font-size="36.9" text-anchor="middle">Wavelength (nm)</text>
<text class="b" transform="translate(27.2,274.6) rotate(-90)" font-size="37.4" text-anchor="middle">Intensity (a.u.)</text>
<!-- inset -->
<rect x="70.8" y="18.5" width="400.7" height="323.5" fill="#fff" stroke="none"/>
<path clip-path="url(#ci)" d="M71.0 301.4L71.2 301.5L71.5 301.5L71.8 301.5L72.0 301.6L72.2 301.6L72.5 301.6L72.8 301.4L73.0 301.0L73.2 300.6L73.5 300.2L73.8 299.8L74.0 299.4L74.2 299.1L74.5 299.3L74.8 299.4L75.0 299.6L75.2 299.8L75.5 300.0L75.8 300.2L76.0 300.0L76.2 299.6L76.5 299.3L76.8 299.0L77.0 298.6L77.2 298.3L77.5 298.3L77.8 298.8L78.0 299.3L78.2 299.8L78.5 300.3L78.8 300.8L79.0 301.2L79.2 300.8L79.5 300.4L79.8 300.0L80.0 299.4L80.2 298.7L80.5 297.8L80.8 297.0L81.0 296.0L81.2 294.5L81.5 292.3L81.8 289.5L82.0 286.1L82.2 282.2L82.5 277.8L82.8 273.7L83.0 270.4L83.2 268.4L83.4 268.0L83.5 268.0L83.8 269.2L84.0 271.9L84.2 275.5L84.5 279.6L84.8 283.7L85.0 287.5L85.2 290.7L85.5 293.4L85.8 295.7L86.0 297.3L86.2 298.5L86.5 299.4L86.8 299.9L87.0 300.4L87.2 300.6L87.5 300.7L87.8 300.8L88.0 300.9L88.2 301.0L88.5 301.0L88.8 300.7L89.0 300.3L89.2 299.9L89.5 299.4L89.8 298.9L90.0 298.3L90.2 297.8L90.5 297.1L90.8 296.5L91.0 295.9L91.2 295.4L91.4 295.2L91.5 295.0L91.8 294.7L92.0 295.1L92.2 295.7L92.5 296.3L92.8 296.9L93.0 297.5L93.2 298.1L93.5 298.7L93.8 299.1L94.0 299.4L94.2 299.7L94.5 300.0L94.8 300.3L95.0 300.5L95.2 300.3L95.5 300.0L95.8 299.8L96.0 299.5L96.2 299.2L96.5 298.9L96.8 298.7L97.0 298.5L97.2 298.3L97.5 298.1L97.8 297.9L98.0 297.7L98.2 297.6L98.5 297.4L98.6 297.3L98.8 297.2L99.0 297.1L99.2 297.0L99.5 296.9L99.8 296.8L100.0 297.1L100.2 297.6L100.5 298.0L100.8 298.4L101.0 298.7L101.2 299.1L101.5 299.3L101.8 299.3L102.0 299.3L102.2 299.3L102.5 299.3L102.8 299.3L103.0 299.2L103.2 299.2L103.5 299.2L103.8 299.2L104.0 299.1L104.2 299.1L104.5 299.0L104.8 299.0L105.0 299.0L105.2 299.0L105.5 299.0L105.8 299.0L106.0 299.0L106.2 299.0L106.5 298.8L106.8 298.7L107.0 298.5L107.2 298.4L107.5 298.3L107.8 298.2L108.0 298.3L108.2 298.6L108.5 298.8L108.8 299.0L109.0 299.2L109.2 299.5L109.5 299.7L109.8 300.0L110.0 300.3L110.2 300.6L110.5 300.8L110.8 301.1L111.0 301.3L111.2 300.9L111.5 300.5L111.8 300.1L112.0 299.7L112.2 299.3L112.5 298.9L112.8 298.9L113.0 299.3L113.2 299.7L113.5 300.0L113.8 300.4L114.0 300.8L114.2 301.1L114.5 301.1L114.8 301.1L115.0 301.0L115.2 301.0L115.5 301.0L115.8 301.0L116.0 301.1L116.2 301.3L116.5 301.4L116.8 301.6L117.0 301.7L117.2 301.8L117.5 301.9L117.8 301.9L118.0 301.8L118.2 301.7L118.5 301.4L118.8 301.0L119.0 300.3L119.2 299.0L119.5 297.5L119.8 295.8L120.0 293.9L120.2 291.9L120.5 289.9L120.8 288.4L121.0 287.5L121.2 287.1L121.3 287.1L121.5 287.3L121.8 288.1L122.0 289.4L122.2 290.9L122.5 292.6L122.8 294.2L123.0 295.8L123.2 297.1L123.5 298.1L123.8 298.9L124.0 299.6L124.2 300.2L124.5 300.6L124.8 300.9L125.0 301.1L125.2 301.3L125.5 301.4L125.8 301.6L126.0 301.8L126.2 302.0L126.5 302.1L126.8 302.1L127.0 302.2L127.2 301.6L127.5 301.0L127.8 300.4L128.0 299.6L128.2 298.9L128.5 298.1L128.8 297.6L129.0 297.4L129.2 297.2L129.5 297.0L129.8 297.0L130.0 297.1L130.2 297.3L130.3 297.3L130.5 297.4L130.8 297.7L131.0 298.1L131.2 298.6L131.5 299.2L131.8 299.9L132.0 300.2L132.2 300.5L132.5 300.7L132.8 300.8L133.0 300.9L133.2 301.0L133.5 301.1L133.8 301.3L134.0 301.5L134.2 301.6L134.5 301.7L134.8 301.8L135.0 301.9L135.2 302.0L135.5 302.2L135.8 302.4L136.0 302.6L136.2 302.7L136.5 302.9L136.8 303.1L137.0 303.3L137.2 303.5L137.5 303.7L137.8 303.9L138.0 304.1L138.2 304.1L138.5 303.8L138.8 303.4L139.0 303.0L139.2 302.6L139.5 302.2L139.8 301.8L140.0 301.9L140.2 302.1L140.5 302.3L140.8 302.5L141.0 302.6L141.2 302.7L141.5 302.6L141.8 302.3L142.0 302.0L142.2 301.6L142.5 301.3L142.8 301.1L143.0 300.8L143.2 300.7L143.4 300.6L143.5 300.6L143.8 300.6L144.0 300.7L144.2 300.8L144.5 301.0L144.8 301.4L145.0 302.0L145.2 302.5L145.5 303.0L145.8 303.5L146.0 303.9L146.2 304.2L146.5 304.0L146.8 303.7L147.0 303.5L147.2 303.2L147.5 302.9L147.8 302.6L148.0 302.8L148.2 303.1L148.5 303.5L148.8 303.8L149.0 304.1L149.2 304.5L149.5 304.6L149.8 304.3L150.0 304.0L150.2 303.7L150.5 303.5L150.8 303.2L151.0 302.9L151.2 303.3L151.5 303.6L151.8 303.9L152.0 304.3L152.2 304.6L152.5 304.9L152.8 305.0L153.0 304.8L153.2 304.6L153.5 304.3L153.8 304.1L154.0 303.9L154.2 303.7L154.5 303.6L154.8 303.5L155.0 303.4L155.2 303.3L155.5 303.0L155.8 302.8L156.0 302.6L156.2 302.3L156.5 302.1L156.8 301.8L157.0 301.6L157.2 301.5L157.5 301.3L157.8 301.0L157.8 301.0L158.0 300.9L158.2 300.8L158.5 300.8L158.8 300.9L159.0 301.0L159.2 301.8L159.5 302.5L159.8 303.2L160.0 303.8L160.2 304.5L160.5 305.0L160.8 305.4L161.0 305.7L161.2 305.9L161.5 306.1L161.8 306.3L162.0 306.5L162.2 306.6L162.5 306.5L162.8 306.4L163.0 306.2L163.2 306.1L163.5 306.0L163.8 305.9L164.0 305.8L164.2 305.8L164.5 305.8L164.8 305.8L165.0 305.8L165.2 305.7L165.5 305.7L165.8 305.8L166.0 305.8L166.2 305.9L166.5 305.9L166.8 305.9L167.0 306.0L167.2 305.7L167.5 305.5L167.8 305.2L168.0 304.9L168.2 304.7L168.5 304.4L168.8 304.6L169.0 305.0L169.2 305.5L169.5 305.9L169.8 306.3L170.0 306.7L170.2 307.0L170.5 307.0L170.8 307.0L171.0 307.0L171.2 306.9L171.5 306.7L171.8 306.5L172.0 306.0L172.2 305.5L172.5 304.9L172.8 304.4L173.0 303.9L173.2 303.6L173.5 303.3L173.8 303.2L174.0 303.3L174.2 303.5L174.5 303.8L174.8 304.0L175.0 304.3L175.2 304.7L175.5 305.0L175.8 305.2L176.0 305.4L176.2 305.4L176.5 305.5L176.8 305.5L177.0 305.6L177.2 305.6L177.5 305.6L177.8 305.6L178.0 305.6L178.2 305.7L178.5 305.9L178.8 306.1L179.0 306.3L179.2 306.4L179.5 306.6L179.8 306.8L180.0 306.3L180.2 305.6L180.5 304.9L180.8 304.0L181.0 303.1L181.2 302.0L181.5 301.1L181.8 300.3L182.0 299.2L182.2 298.0L182.5 296.6L182.8 295.0L183.0 293.4L183.2 291.8L183.5 290.6L183.8 290.1L183.8 290.1L184.0 290.4L184.2 291.4L184.5 293.1L184.8 295.5L185.0 298.2L185.2 300.9L185.5 303.3L185.8 305.4L186.0 307.1L186.2 308.3L186.5 308.7L186.8 309.0L187.0 309.1L187.2 309.1L187.5 309.1L187.8 309.0L188.0 309.3L188.2 309.6L188.5 310.0L188.8 310.3L189.0 310.7L189.2 311.0L189.5 311.2L189.8 311.1L190.0 311.0L190.2 311.0L190.5 310.9L190.8 310.8L191.0 310.8L191.2 310.9L191.5 311.0L191.8 311.1L192.0 311.2L192.2 311.3L192.5 311.5L192.8 311.7L193.0 312.0L193.2 312.4L193.5 312.7L193.8 313.0L194.0 313.4L194.2 313.6L194.5 313.6L194.8 313.6L195.0 313.7L195.2 313.6L195.5 313.5L195.8 313.4L196.0 313.2L196.2 312.9L196.5 312.6L196.8 312.4L197.0 312.1L197.2 311.8L197.5 311.8L197.8 312.2L198.0 312.5L198.2 312.9L198.5 313.2L198.8 313.6L199.0 313.9L199.2 313.7L199.5 313.5L199.8 313.3L200.0 313.1L200.2 312.8L200.5 312.6L200.8 312.5L201.0 312.5L201.2 312.5L201.5 312.4L201.8 312.4L202.0 312.4L202.2 312.4L202.5 312.2L202.8 312.1L203.0 312.0L203.2 311.9L203.5 311.8L203.8 311.6L204.0 311.4L204.2 311.2L204.5 311.0L204.8 310.8L205.0 310.5L205.2 310.3L205.5 310.1L205.8 310.0L206.0 309.8L206.2 309.6L206.5 309.2L206.8 308.7L207.0 308.1L207.2 307.2L207.5 306.2L207.8 305.2L208.0 304.2L208.2 303.4L208.5 302.6L208.8 302.3L209.0 302.3L209.2 302.6L209.5 303.3L209.8 304.1L210.0 305.2L210.2 306.4L210.5 307.6L210.8 308.7L211.0 309.8L211.2 310.7L211.5 311.4L211.8 312.0L212.0 312.2L212.2 312.2L212.5 312.1L212.8 312.0L213.0 311.8L213.2 311.5L213.5 311.3L213.8 311.1L214.0 310.9L214.2 310.5L214.5 310.0L214.8 309.3L215.0 308.4L215.2 307.0L215.5 305.5L215.8 304.0L216.0 302.6L216.2 301.4L216.5 300.5L216.7 300.4L216.8 300.4L217.0 300.9L217.2 301.8L217.5 302.9L217.8 304.2L218.0 305.6L218.2 306.9L218.5 308.0L218.8 308.9L219.0 309.6L219.2 310.2L219.5 310.7L219.8 311.0L220.0 311.0L220.2 310.9L220.5 310.8L220.8 310.6L221.0 310.4L221.2 310.2L221.5 310.1L221.8 309.9L222.0 309.8L222.2 309.7L222.5 309.6L222.8 309.5L223.0 309.4L223.2 309.6L223.5 309.9L223.8 310.2L224.0 310.4L224.2 310.6L224.5 310.8L224.8 310.9L225.0 310.7L225.2 310.5L225.5 310.1L225.8 309.4L226.0 308.5L226.2 307.2L226.5 305.1L226.8 302.6L227.0 299.7L227.2 296.5L227.5 293.3L227.8 290.2L228.0 288.1L228.2 286.9L228.5 286.7L228.8 287.6L229.0 289.4L229.2 292.0L229.5 294.9L229.8 297.6L230.0 300.3L230.2 302.6L230.5 304.6L230.8 306.1L231.0 307.3L231.2 308.4L231.5 309.2L231.8 309.8L232.0 310.2L232.2 310.5L232.5 310.8L232.8 310.8L233.0 310.6L233.2 310.4L233.5 310.1L233.8 309.9L234.0 309.7L234.2 309.6L234.5 309.8L234.8 310.0L235.0 310.2L235.2 310.4L235.5 310.5L235.8 310.5L236.0 310.1L236.2 309.6L236.5 308.9L236.8 308.3L237.0 307.6L237.2 306.9L237.5 306.3L237.8 305.8L238.0 305.4L238.2 305.3L238.5 305.3L238.8 305.5L239.0 305.7L239.2 306.7L239.5 307.6L239.8 308.5L240.0 309.3L240.2 310.1L240.5 310.7L240.8 310.8L241.0 310.4L241.2 310.0L241.5 309.5L241.8 309.0L242.0 308.5L242.2 308.2L242.5 308.4L242.8 308.6L243.0 308.9L243.2 309.1L243.5 309.3L243.8 309.5L244.0 309.9L244.2 310.4L244.5 310.8L244.8 311.2L245.0 311.5L245.2 311.8L245.5 311.8L245.8 311.4L246.0 310.9L246.2 310.3L246.5 309.8L246.8 309.3L247.0 308.8L247.2 308.3L247.5 307.9L247.8 307.7L248.0 307.6L248.2 307.6L248.5 307.7L248.8 308.0L249.0 308.5L249.2 309.0L249.5 309.4L249.8 309.8L250.0 310.1L250.2 310.2L250.5 310.0L250.8 309.8L251.0 309.6L251.2 309.3L251.5 309.1L251.8 308.8L252.0 309.1L252.2 309.5L252.5 309.9L252.8 310.4L253.0 310.8L253.2 311.2L253.5 311.2L253.8 310.8L254.0 310.3L254.2 309.8L254.5 309.3L254.8 308.9L255.0 308.4L255.2 308.6L255.5 308.7L255.8 308.9L256.0 309.1L256.2 309.3L256.5 309.4L256.8 309.5L257.0 309.4L257.2 309.3L257.5 309.2L257.8 309.0L258.0 308.8L258.2 308.5L258.5 308.0L258.8 307.3L259.0 306.3L259.2 304.7L259.5 301.8L259.8 296.7L260.0 288.4L260.2 275.3L260.5 256.6L260.8 232.3L261.0 204.1L261.2 175.7L261.5 152.8L261.8 141.8L261.8 141.4L262.0 146.7L262.2 165.8L262.5 192.8L262.8 221.7L263.0 247.9L263.2 269.0L263.5 284.2L263.8 294.4L264.0 300.6L264.2 304.2L264.5 306.2L264.8 307.4L265.0 308.1L265.2 308.6L265.5 309.0L265.8 309.3L266.0 309.6L266.2 309.8L266.5 309.6L266.8 309.5L267.0 309.3L267.2 309.1L267.5 308.8L267.8 308.6L268.0 308.9L268.2 309.2L268.5 309.6L268.8 309.9L269.0 310.3L269.2 310.6L269.5 310.8L269.8 310.8L270.0 310.7L270.2 310.7L270.5 310.6L270.8 310.6L271.0 310.5L271.2 310.7L271.5 310.8L271.8 310.9L272.0 311.0L272.2 311.2L272.5 311.3L272.8 311.4L273.0 311.6L273.2 311.7L273.5 311.8L273.8 312.0L274.0 312.1L274.2 312.2L274.5 312.0L274.8 311.9L275.0 311.7L275.2 311.5L275.5 311.4L275.8 311.2L276.0 311.3L276.2 311.4L276.5 311.5L276.8 311.6L277.0 311.7L277.2 311.8L277.5 311.9L277.8 311.8L278.0 311.7L278.2 311.6L278.5 311.5L278.8 311.4L279.0 311.3L279.2 311.5L279.5 311.7L279.8 311.9L280.0 312.1L280.2 312.2L280.5 312.4L280.8 312.3L281.0 312.2L281.2 312.0L281.5 311.7L281.8 311.5L282.0 311.2L282.2 310.9L282.5 310.6L282.8 310.3L283.0 310.2L283.2 310.1L283.5 310.1L283.8 310.2L284.0 310.7L284.2 311.3L284.5 311.8L284.8 312.4L285.0 312.8L285.2 313.3L285.5 313.5L285.8 313.4L286.0 313.2L286.2 313.0L286.5 312.8L286.8 312.6L287.0 312.4L287.2 312.4L287.5 312.5L287.8 312.5L288.0 312.5L288.2 312.5L288.5 312.5L288.8 312.7L289.0 313.0L289.2 313.3L289.5 313.5L289.8 313.8L290.0 314.1L290.2 314.3L290.5 314.2L290.8 314.1L291.0 314.0L291.2 313.9L291.5 313.7L291.8 313.6L292.0 313.4L292.2 313.0L292.5 312.7L292.8 312.3L293.0 312.0L293.2 311.6L293.5 311.2L293.8 310.7L294.0 310.1L294.2 309.5L294.5 308.9L294.8 308.2L295.0 307.5L295.2 308.2L295.5 308.9L295.8 309.7L296.0 310.6L296.2 311.6L296.5 312.7L296.8 313.4L297.0 313.7L297.2 314.0L297.5 314.3L297.8 314.6L298.0 314.9L298.2 314.9L298.5 314.3L298.8 313.5L299.0 312.8L299.2 312.0L299.5 311.2L299.8 310.3L300.0 310.4L300.2 310.8L300.5 311.1L300.8 311.4L301.0 311.6L301.2 311.8L301.5 311.7L301.8 311.1L302.0 310.5L302.2 309.9L302.5 309.1L302.8 308.3L303.0 307.4L303.2 306.9L303.5 306.4L303.8 305.9L304.0 305.4L304.2 305.0L304.5 304.8L304.8 304.5L305.0 304.2L305.2 304.1L305.2 304.1L305.5 304.2L305.8 304.4L306.0 304.8L306.2 305.4L306.5 306.1L306.8 306.9L307.0 307.7L307.2 308.6L307.5 309.4L307.8 310.1L308.0 310.8L308.2 311.4L308.5 311.9L308.8 312.4L309.0 312.7L309.2 313.0L309.5 313.3L309.8 313.5L310.0 313.7L310.2 313.9L310.5 314.1L310.8 314.2L311.0 314.3L311.2 313.8L311.5 313.3L311.8 312.8L312.0 312.2L312.2 311.7L312.5 311.2L312.8 310.9L313.0 310.8L313.2 310.7L313.5 310.6L313.8 310.5L314.0 310.3L314.2 310.2L314.5 310.4L314.8 310.5L315.0 310.7L315.2 310.8L315.5 310.8L315.8 310.9L316.0 310.8L316.2 310.7L316.5 310.6L316.8 310.5L317.0 310.4L317.2 310.4L317.5 310.3L317.8 310.3L318.0 310.3L318.2 310.3L318.5 310.4L318.8 310.5L319.0 310.7L319.2 310.7L319.5 310.6L319.8 310.6L320.0 310.6L320.2 310.6L320.5 310.5L320.8 310.8L321.0 311.3L321.2 311.7L321.5 312.0L321.8 312.2L322.0 312.3L322.2 312.1L322.5 311.0L322.8 309.8L323.0 308.4L323.2 306.9L323.5 305.3L323.8 303.6L324.0 302.4L324.2 301.2L324.5 300.2L324.8 299.2L325.0 298.4L325.2 297.8L325.5 297.5L325.8 297.7L325.8 297.8L326.0 298.2L326.2 298.9L326.5 299.9L326.8 301.2L327.0 302.6L327.2 303.6L327.5 304.8L327.8 306.0L328.0 307.1L328.2 308.2L328.5 309.2L328.8 310.1L329.0 310.8L329.2 311.3L329.5 311.8L329.8 312.1L330.0 312.4L330.2 312.6L330.5 313.0L330.8 313.3L331.0 313.6L331.2 313.9L331.5 314.1L331.8 314.3L332.0 314.3L332.2 314.3L332.5 314.2L332.8 314.2L333.0 314.1L333.2 314.1L333.5 313.9L333.8 313.7L334.0 313.4L334.2 313.1L334.5 312.9L334.8 312.6L335.0 312.3L335.2 312.5L335.5 312.7L335.8 312.8L336.0 313.0L336.2 313.1L336.5 313.2L336.8 313.1L337.0 313.0L337.2 312.8L337.5 312.5L337.8 312.3L338.0 312.0L338.2 311.7L338.5 311.2L338.8 310.8L339.0 310.3L339.2 309.9L339.5 309.6L339.8 309.3L340.0 309.3L340.2 309.5L340.5 309.7L340.8 309.9L341.0 310.3L341.2 310.6L341.5 311.0L341.8 311.4L342.0 311.8L342.2 312.1L342.5 312.5L342.8 312.8L343.0 313.1L343.2 312.9L343.5 312.8L343.8 312.6L344.0 312.3L344.2 312.1L344.5 311.8L344.8 311.6L345.0 311.4L345.2 311.2L345.5 310.9L345.8 310.6L346.0 310.1L346.2 309.7L346.5 309.5L346.8 309.3L347.0 309.1L347.2 308.9L347.5 308.9L347.8 309.0L348.0 308.8L348.2 308.8L348.5 308.9L348.8 309.1L349.0 309.4L349.2 309.8L349.5 310.2L349.8 310.6L350.0 311.0L350.2 311.4L350.5 311.6L350.8 311.8L351.0 311.9L351.2 311.9L351.5 311.9L351.8 311.8L352.0 311.7L352.2 311.6L352.5 311.5L352.8 311.5L353.0 311.4L353.2 311.4L353.5 311.3L353.8 311.2L354.0 311.1L354.2 311.0L354.5 311.1L354.8 311.1L355.0 310.9L355.2 310.4L355.5 309.1L355.8 306.9L356.0 302.8L356.2 296.7L356.5 288.2L356.8 277.2L357.0 264.3L357.2 250.5L357.5 237.5L357.8 227.9L358.0 224.2L358.2 227.5L358.5 236.8L358.8 249.5L359.0 263.1L359.2 276.1L359.5 287.2L359.8 295.7L360.0 302.0L360.2 306.2L360.5 308.9L360.8 310.5L361.0 311.4L361.2 312.0L361.5 312.3L361.8 312.5L362.0 312.7L362.2 312.8L362.5 313.0L362.8 313.1L363.0 313.3L363.2 313.4L363.5 313.5L363.8 313.6L364.0 313.6L364.2 313.6L364.5 313.6L364.8 313.6L365.0 313.6L365.2 313.5L365.5 313.6L365.8 313.8L366.0 314.1L366.2 314.4L366.5 314.6L366.8 314.9L367.0 315.2L367.2 315.1L367.5 315.1L367.8 315.0L368.0 315.0L368.2 315.0L368.5 314.9L368.8 314.9L369.0 315.0L369.2 315.0L369.5 315.1L369.8 315.1L370.0 315.1L370.2 315.1L370.5 315.0L370.8 314.8L371.0 314.7L371.2 314.5L371.5 314.4L371.8 314.2L372.0 314.4L372.2 314.6L372.5 314.8L372.8 315.1L373.0 315.3L373.2 315.6L373.5 315.7L373.8 315.8L374.0 315.9L374.2 316.0L374.5 316.0L374.8 316.1L375.0 316.2L375.2 315.6L375.5 315.1L375.8 314.5L376.0 313.9L376.2 313.4L376.5 312.8L376.8 312.8L377.0 313.0L377.2 313.3L377.5 313.5L377.8 313.8L378.0 314.0L378.2 314.2L378.5 314.1L378.8 314.0L379.0 313.9L379.2 313.7L379.5 313.6L379.8 313.4L380.0 313.4L380.2 313.4L380.5 313.5L380.8 313.4L381.0 313.4L381.2 313.4L381.5 313.2L381.8 312.9L382.0 312.5L382.2 312.1L382.5 311.8L382.8 311.4L383.0 311.0L383.2 311.2L383.5 311.4L383.8 311.5L384.0 311.8L384.2 312.0L384.5 312.3L384.8 312.3L385.0 312.1L385.2 312.0L385.5 311.9L385.8 311.9L386.0 311.8L386.2 311.9L386.5 312.0L386.8 312.2L387.0 312.3L387.2 312.5L387.5 312.7L387.8 312.9L388.0 313.2L388.2 313.4L388.5 313.7L388.8 314.0L389.0 314.2L389.2 314.5L389.5 314.7L389.8 314.8L390.0 314.9L390.2 315.1L390.5 315.2L390.8 315.2L391.0 315.3L391.2 315.2L391.5 315.0L391.8 314.8L392.0 314.6L392.2 314.4L392.5 314.2L392.8 314.2L393.0 314.4L393.2 314.6L393.5 314.7L393.8 314.9L394.0 315.0L394.2 315.1L394.5 315.1L394.8 315.0L395.0 314.9L395.2 314.9L395.5 314.8L395.8 314.7L396.0 314.6L396.2 314.5L396.5 314.4L396.8 314.2L397.0 314.1L397.2 314.0L397.5 313.9L397.8 313.9L398.0 314.0L398.2 314.0L398.5 314.0L398.8 314.1L399.0 314.1L399.2 314.0L399.5 313.8L399.8 313.6L400.0 313.4L400.2 313.3L400.5 313.1L400.8 313.1L401.0 313.2L401.2 313.2L401.5 313.3L401.8 313.3L402.0 313.4L402.2 313.5L402.5 313.8L402.8 314.2L403.0 314.5L403.2 314.8L403.5 315.2L403.8 315.5L404.0 315.6L404.2 315.7L404.5 315.7L404.8 315.8L405.0 315.9L405.2 315.9L405.5 315.9L405.8 315.6L406.0 315.3L406.2 315.0L406.5 314.7L406.8 314.4L407.0 314.1L407.2 314.0L407.5 313.9L407.8 313.8L408.0 313.7L408.2 313.6L408.5 313.5L408.8 313.3L409.0 313.2L409.2 313.0L409.5 312.8L409.8 312.6L410.0 312.4L410.2 312.3L410.5 312.6L410.8 312.9L411.0 313.2L411.2 313.5L411.5 313.7L411.8 314.0L412.0 313.4L412.2 312.5L412.5 311.7L412.8 310.7L413.0 309.6L413.2 308.3L413.5 306.9L413.8 305.4L414.0 303.4L414.2 300.8L414.5 297.5L414.8 293.2L415.0 287.9L415.2 282.0L415.5 274.9L415.8 266.7L416.0 257.6L416.2 248.1L416.5 238.8L416.8 230.6L417.0 224.7L417.2 222.2L417.3 222.2L417.5 223.8L417.8 229.2L418.0 237.4L418.2 247.1L418.5 256.7L418.8 266.2L419.0 274.9L419.2 282.5L419.5 289.0L419.8 294.3L420.0 298.8L420.2 302.5L420.5 305.2L420.8 307.4L421.0 309.0L421.2 310.2L421.5 311.1L421.8 311.9L422.0 312.4L422.2 312.9L422.5 313.4L422.8 313.7L423.0 314.0L423.2 313.9L423.5 313.8L423.8 313.7L424.0 313.5L424.2 313.3L424.5 313.1L424.8 313.0L425.0 313.0L425.2 313.0L425.5 313.0L425.8 312.9L426.0 312.9L426.2 312.9L426.5 313.3L426.8 313.6L427.0 313.9L427.2 314.2L427.5 314.6L427.8 314.9L428.0 315.0L428.2 315.1L428.5 315.2L428.8 315.3L429.0 315.4L429.2 315.5L429.5 315.5L429.8 315.4L430.0 315.4L430.2 315.3L430.5 315.2L430.8 315.2L431.0 315.1L431.2 315.5L431.5 315.8L431.8 316.2L432.0 316.5L432.2 316.9L432.5 317.2L432.8 317.0L433.0 316.3L433.2 315.7L433.5 315.1L433.8 314.4L434.0 313.7L434.2 313.2L434.5 313.3L434.8 313.3L435.0 313.4L435.2 313.4L435.5 313.4L435.8 313.4L436.0 313.2L436.2 312.9L436.5 312.6L436.8 312.2L437.0 311.9L437.2 311.4L437.5 311.0L437.8 310.7L438.0 310.2L438.2 309.6L438.5 308.6L438.8 307.0L439.0 304.4L439.2 299.8L439.5 292.5L439.8 281.2L440.0 264.4L440.2 240.8L440.5 210.0L440.8 172.8L441.0 131.7L441.2 91.5L441.5 59.5L441.8 44.3L441.8 43.8L442.0 51.0L442.2 77.2L442.5 115.2L442.8 156.7L443.0 196.0L443.2 229.6L443.5 256.1L443.8 275.5L444.0 288.8L444.2 297.4L444.5 302.8L444.8 306.2L445.0 308.3L445.2 309.8L445.5 310.8L445.8 311.5L446.0 312.1L446.2 312.6L446.5 313.0L446.8 313.3L447.0 313.6L447.2 313.9L447.5 314.3L447.8 314.6L448.0 314.8L448.2 315.1L448.5 315.3L448.8 315.6L449.0 315.9L449.2 316.2L449.5 316.5L449.8 316.8L450.0 317.1L450.2 317.3L450.5 317.3L450.8 317.4L451.0 317.4L451.2 317.4L451.5 317.4L451.8 317.5L452.0 317.5L452.2 317.6L452.5 317.7L452.8 317.8L453.0 317.9L453.2 318.0L453.5 318.1L453.8 318.1L454.0 318.2L454.2 318.2L454.5 318.2L454.8 318.3L455.0 318.3L455.2 318.1L455.5 317.9L455.8 317.7L456.0 317.6L456.2 317.4L456.5 317.2L456.8 317.2L457.0 317.3L457.2 317.4L457.5 317.5L457.8 317.6L458.0 317.7L458.2 317.8L458.5 317.8L458.8 317.8L459.0 317.8L459.2 317.8L459.5 317.8L459.8 317.8L460.0 317.9L460.2 318.1L460.5 318.2L460.8 318.4L461.0 318.6L461.2 318.8L461.5 318.9L461.8 318.9L462.0 319.0L462.2 319.0L462.5 319.1L462.8 319.2L463.0 319.2L463.2 319.3L463.5 319.4L463.8 319.5L464.0 319.6L464.2 319.7L464.5 319.8L464.8 319.9L465.0 320.1L465.2 320.2L465.5 320.4L465.8 320.5L466.0 320.6L466.2 320.7L466.5 320.6L466.8 320.4L467.0 320.3L467.2 320.1L467.5 320.0L467.8 319.8L468.0 319.6L468.2 319.5L468.5 319.3L468.8 319.2L469.0 319.0L469.2 318.9L469.5 318.7L469.8 318.7L470.0 318.7L470.2 318.6L470.5 318.6L470.8 318.5L471.0 318.5L471.2 318.6L471.5 318.8" fill="none" stroke="#000" stroke-width="4.2" stroke-linejoin="round" stroke-linecap="round"/>
<rect x="70.8" y="18.5" width="400.7" height="323.5" fill="none" stroke="#0000ff" stroke-width="3.7"/>
<line x1="70" y1="331" x2="471" y2="331" stroke="#ff0000" stroke-width="4.2"/>
<g stroke="#0000ff" stroke-width="3.4"><line x1="70.8" y1="342" x2="70.8" y2="348.5"/><line x1="110.9" y1="342" x2="110.9" y2="345.2"/><line x1="150.9" y1="342" x2="150.9" y2="348.5"/><line x1="191.0" y1="342" x2="191.0" y2="345.2"/><line x1="231.1" y1="342" x2="231.1" y2="348.5"/><line x1="271.1" y1="342" x2="271.1" y2="345.2"/><line x1="311.2" y1="342" x2="311.2" y2="348.5"/><line x1="351.3" y1="342" x2="351.3" y2="345.2"/><line x1="391.4" y1="342" x2="391.4" y2="348.5"/><line x1="431.4" y1="342" x2="431.4" y2="345.2"/><line x1="471.5" y1="342" x2="471.5" y2="348.5"/></g>
<g class="b" font-size="27.8" text-anchor="middle" fill="#0000ff"><text x="70.8" y="374.6">400</text><text x="150.9" y="374.6">420</text><text x="231.1" y="374.6">440</text><text x="311.2" y="374.6">460</text><text x="391.4" y="374.6">480</text><text x="471.5" y="374.6">500</text></g>
<!-- legend -->
<line x1="81.3" y1="37.4" x2="146.7" y2="37.4" stroke="#000" stroke-width="4.2" stroke-linecap="round"/>
<line x1="81.3" y1="73.4" x2="146.7" y2="73.4" stroke="#ff0000" stroke-width="4.2" stroke-linecap="round"/>
<text x="154.5" y="46.7" font-size="28.7">Plasma</text>
<text x="155" y="83" font-size="28.7">Thermal</text>
<!-- labels -->
<g class="b" font-size="37.4" fill="#000">
<text x="49.7" y="450">OH</text>
<text x="163.6" y="421.7">He</text>
<text x="310.5" y="411.8">He</text>
<text x="475.6" y="121">He</text>
<text x="594.4" y="39.4">He</text>
<text x="653.6" y="108">He</text>
<text x="688.6" y="394.2">He</text>
</g>
<line x1="77.2" y1="459.2" x2="64.4" y2="509.5" stroke="#000" stroke-width="3.0"/><polygon points="60.3,525.5 60.0,507.4 69.3,509.7" fill="#000"/>
<g class="b" font-size="37" fill="#0000ff">
<text x="187.2" y="212.3">H</text>
<text x="389.6" y="146">H</text>
<text x="566.3" y="339.6">H</text>
<text transform="translate(214.4,221.2)" font-size="25" font-weight="bold">γ</text>
<text transform="translate(416.6,155.4) scale(1.3,1)" font-size="25" font-weight="normal">β</text>
<text transform="translate(593.6,349.1) scale(1.32,1)" font-size="25" font-weight="normal">α</text>
</g>
<line x1="206.0" y1="231.5" x2="208.0" y2="277.7" stroke="#0000ff" stroke-width="2.6"/><polygon points="208.7,295.2 203.1,276.9 212.7,276.5" fill="#0000ff"/>
<line x1="409.3" y1="166.9" x2="412.6" y2="191.5" stroke="#0000ff" stroke-width="2.6"/><polygon points="415.0,209.3 407.5,191.1 417.4,189.8" fill="#0000ff"/>
<line x1="587.2" y1="359.0" x2="595.4" y2="388.9" stroke="#0000ff" stroke-width="2.6"/><polygon points="600.1,405.8 590.6,389.2 599.8,386.7" fill="#0000ff"/>
</svg>
</body></html>
